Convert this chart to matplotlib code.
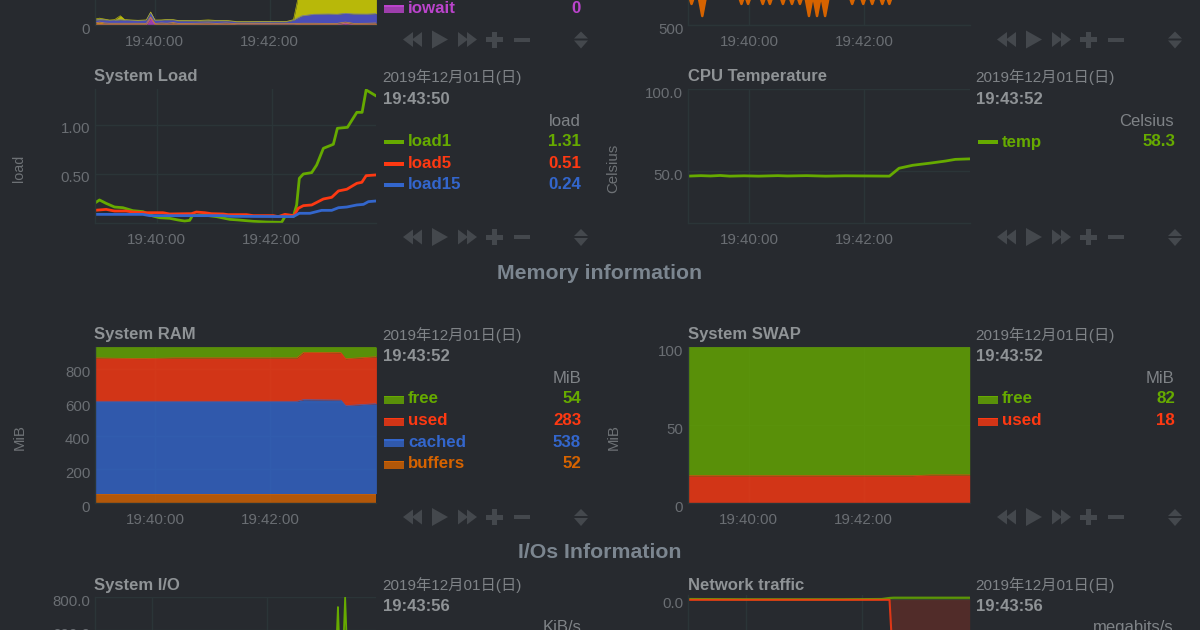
import numpy as np
import matplotlib
matplotlib.use("Agg")
import matplotlib.pyplot as plt
from matplotlib.patches import Polygon, Rectangle
from matplotlib.transforms import ScaledTranslation

FONT = ['Liberation Sans', 'Noto Sans CJK JP', 'DejaVu Sans']
plt.rcParams['font.family'] = FONT

BG = '#272a2f'
GRID = '#2b3538'
TICK = '#6a6e73'
TITLE = '#8f9396'
DATE = '#7f8387'
YLAB = '#6e7276'
HEAD = '#7c8690'
CTRL = '#44484d'
GREEN, RED, BLUE, ORANGE = '#66AA00', '#FE3912', '#3366CC', '#D66300'
PURPLE, YELLOW, INDIGO, AMBER = '#BB44CC', '#DDDD00', '#5558DC', '#EE9911'

TIME_TICKS = [0, 120]
TIME_LABELS = ['19:40:00', '19:42:00']

# ---- System CPU (seconds since 19:40:00, percent)
cpu_t = [-62.8, -57.5, -52.3, -47.1, -41.8, -35.9, -31.4, -26.2, -17.4, -8.7, -4.2, 0.3, 7, 12.9, 19.2, 24.4, 33.1, 43.6,
         55.8, 64.5, 75, 85.4, 95.9, 109.9, 123.8, 137.8, 144.8, 149, 153.5, 165.7, 181.4, 190.2, 198.9, 207.6, 221.5, 231.3]
cpu_iowait = [0, 0, 0, 0, 0, 0, 0, 0, 0, 0, 5.2, 0, 0, 0, 0, 0, 0, 0, 0, 0, 0, 0, 0, 0, 0, 0, 0, 0, 0, 0, 0, 0, 1.2, 0, 0, 0]
cpu_orange = [1.5, 2.2, 1.5, 1.3, 1.3, 1.3, 1.3, 1.3, 1.3, 1.2, 0.8, 1.2, 1.5, 1.3, 1.8, 1.2, 1.2, 1.3,
              1.5, 1.2, 1.5, 1.0, 1.0, 1.0, 1.0, 1.0, 1.0, 1.2, 1.3, 1.3, 1.2, 1.2, 1.0, 1.2, 1.3, 1.5]
cpu_blue = [2.2, 1.8, 2.4, 2.2, 2.2, 2.6, 2.3, 2.3, 2.0, 2.4, 3.4, 2.3, 2.0, 2.6, 2.0, 2.0, 2.0, 1.8,
            1.6, 2.0, 1.7, 1.4, 1.4, 1.5, 1.5, 1.5, 2.5, 4.0, 5.5, 6.7, 7.0, 6.8, 6.5, 7.0, 6.8, 7.0]
cpu_yellow = [0.7, 1.1, 0.5, 0.2, 0.5, 3.0, 0.5, 0.2, 0.2, 0.2, 0.3, 0.2, 0.3, 0.2, 0.2, 0.2, 0.2, 0.2,
              0.7, 0.2, 0.2, 0.2, 0.2, 0.2, 0.2, 0.2, 0.5, 13, 60, 60, 60, 60, 60, 60, 60, 60]

# ---- CPU frequency (MHz)
freq_t = [-64.1, -62, -59.9, -57.8, -52.2, -48.7, -45.2, -10, -7.9, -5.8, -3.1, -1, 1.1, 12.2, 14.3, 16.4, 19.6, 21.7, 23.8,
          33.2, 35.3, 37.4, 42.6, 44.7, 46.8, 50.9, 53, 55.1, 58.9, 62.4, 65.9, 67.3, 70.8, 74.3, 75.7, 79.2, 82.7,
          105.3, 107.4, 109.5, 116.8, 118.9, 121, 126.2, 128.3, 130.4, 136.7, 138.8, 140.9, 144, 146.1, 148.2, 229.8]
freq_v = [700, 700, 657, 700, 700, 567, 700, 700, 657, 700, 700, 657, 700, 700, 657, 700, 700, 657, 700,
          700, 657, 700, 700, 657, 700, 700, 657, 700, 700, 567, 700, 700, 567, 700, 700, 567, 700,
          700, 657, 700, 700, 657, 700, 700, 657, 700, 700, 657, 700, 700, 657, 700, 700]

# ---- System load
load1_t = [-64.9, -59.6, -52.6, -43.9, -35.2, -24.8, -14.3, -3.8, 3.1, 13.6, 22.3, 29.3, 34.5, 37.3, 48.5, 62.4, 76.4, 85.1,
           100.8, 114.7, 130.4, 133.9, 142.6, 146.1, 148.9, 153.1, 161.8, 167, 174, 184.4, 188.6, 199.1, 208.9, 214.4, 218.6, 228.4]
load1_v = [.20, .235, .20, .163, .156, .126, .116, .071, .054, .048, .031, .02, .027, .075, .082, .065, .037, .031,
           .017, .010, .007, .065, .065, .184, .456, .50, .514, .592, .762, .803, .966, .976, 1.129, 1.129, 1.357, 1.30]
load5_t = [-64.9, -52.6, -43.9, -31.7, -24.8, -10.8, 6.6, 13.6, 32.8, 36.3, 41.5, 50.2, 57.2, 69.4, 74.6, 93.8, 100.8, 121.7,
           126.9, 133.9, 143.3, 147.8, 153.1, 161.8, 174, 182.7, 189.7, 198.4, 208.9, 214.1, 218.6, 228.4]
load5_v = [.129, .139, .122, .122, .112, .105, .105, .092, .095, .095, .112, .105, .095, .092, .085, .085, .075, .075,
           .065, .088, .075, .15, .177, .184, .245, .262, .327, .344, .405, .415, .483, .49]
load15_t = [-64.9, -14.3, -7.3, 69.4, 76.4, 142.6, 148.9, 160, 172.2, 182.7, 189.7, 198.4, 208.9, 215.8, 221, 228.4]
load15_v = [.088, .088, .075, .075, .068, .065, .099, .099, .129, .129, .156, .163, .184, .19, .218, .224]

# ---- CPU temperature
temp_t = [-64, -50, -40, -30, -20, -5, 10, 30, 40, 60, 80, 100, 125, 146.4, 156.4, 170.5, 190, 205, 215, 230]
temp_v = [47.0, 47.3, 47.1, 47.4, 47.0, 47.2, 47.0, 47.3, 47.1, 47.3, 47.0, 47.2, 47.1, 47.0, 51.8, 53.6, 55, 56.2, 57.2, 57.5]

# ---- System RAM (MiB)
ram_t = [-63.2, -20, -10, 20, 148, 155, 194, 199, 231]
ram_buffers = [56, 56, 56, 56, 56, 56, 56, 56, 56]
ram_cached = [551, 551, 551, 551, 551, 561, 558, 525, 537]
ram_used = [259, 255, 255, 259, 259, 282, 283, 280, 280]
ram_free = [65, 69, 69, 65, 65, 32, 34, 70, 58]

# ---- System swap (MiB)
swap_t = [-63.6, 170, 190, 230.3]
swap_used = [17.5, 17.5, 18, 18]
swap_free = [82.5, 82.5, 82, 82]

# ---- System I/O (KiB/s)
io_t = [-60.4, 100, 189.5, 193.5, 197, 201, 205, 233.4]
io_v = [50, 50, 150, 739, 150, 797, 150, 50]

# ---- Network traffic (megabits/s)
net_t = [-61.4, 0, 100, 141, 149, 153.5, 232.5]
net_in = [0.1, 0.0, 0.0, 0.1, 0.5, 0.6, 0.6]
net_out = [-0.2, -0.2, -0.2, -0.2, -0.2, -30, -30]

fig = plt.figure(figsize=(12, 6.3), dpi=100, facecolor=BG)


def chart(left, top, right, bottom, xlim, ylim, yticks, ylabels):
    ax = fig.add_axes([left / 1200, 1 - bottom / 630, (right - left) / 1200, (bottom - top) / 630], facecolor=BG)
    ax.set_xlim(*xlim)
    ax.set_ylim(*ylim)
    ax.set_xticks(TIME_TICKS, TIME_LABELS)
    ax.set_yticks(yticks, ylabels)
    ax.grid(color=GRID, lw=1)
    ax.set_axisbelow(True)
    for s in ax.spines.values():
        s.set_color(GRID)
        s.set_linewidth(1)
    ax.spines['right'].set_visible(False)
    ax.spines['top'].set_visible(False)
    ax.tick_params(axis='both', length=0, labelsize=10.8, colors=TICK)
    ax.tick_params(axis='x', pad=7)
    ax.tick_params(axis='y', pad=3)
    shift = ScaledTranslation(0, -3 / 100, fig.dpi_scale_trans)
    for lab in ax.get_yticklabels():
        lab.set_transform(lab.get_transform() + shift)
    return ax


def stack(ax, t, series, colors):
    base = np.zeros(len(t))
    for vals, c in zip(series, colors):
        top = base + np.array(vals, dtype=float)
        ax.fill_between(t, base, top, color=c, alpha=0.8, lw=0)
        ax.plot(t, top, color=c, lw=0.5, alpha=0.8)
        base = top


L1, R1, L2, R2 = 94.5, 376.2, 687.5, 969.7

# charts
ax = chart(L1, -109, R1, 25, (-62.8, 231.1), (0, 100), [0], ['0'])
stack(ax, cpu_t, [cpu_iowait, cpu_orange, cpu_blue, cpu_yellow], [PURPLE, AMBER, INDIGO, YELLOW])

ax = chart(L2, -109, R2, 25, (-64.1, 229.8), (500, 1500), [500], ['500'])
ax.fill_between(freq_t, freq_v, 700, color=ORANGE, lw=0)
ax.plot(freq_t, freq_v, color=ORANGE, lw=1.8)

ax = chart(L1, 89, R1, 223, (-64.8, 229.1), (0, 1.367), [0.5, 1.0], ['0.50', '1.00'])
ax.plot(load1_t, load1_v, color=GREEN, lw=2.0)
ax.plot(load5_t, load5_v, color=RED, lw=2.0)
ax.plot(load15_t, load15_v, color=BLUE, lw=2.0)

ax = chart(L2, 89, R2, 223, (-64, 230), (18.5, 100), [50, 100], ['50.0', '100.0'])
ax.plot(temp_t, temp_v, color=GREEN, lw=2.0)

ax = chart(L1, 347, R1, 503, (-63.2, 230.8), (0, 931), [0, 200, 400, 600, 800], ['0', '200', '400', '600', '800'])
stack(ax, ram_t, [ram_buffers, ram_cached, ram_used, ram_free], [ORANGE, BLUE, RED, GREEN])

ax = chart(L2, 347, R2, 503, (-63.6, 230.3), (0, 100), [0, 50, 100], ['0', '50', '100'])
stack(ax, swap_t, [swap_used, swap_free], [RED, GREEN])

ax = chart(L1, 597, R1, 731, (-60.4, 233.4), (-12, 800), [600, 800], ['600.0', '800.0'])
ax.fill_between(io_t, 0, io_v, color=GREEN, alpha=0.2, lw=0)
ax.plot(io_t, io_v, color=GREEN, lw=1.3)

ax = chart(L2, 595, R2, 731, (-61.4, 232.5), (-50, 1.63), [0], ['0.0'])
ax.fill_between(net_t, 0, net_in, color=GREEN, alpha=0.2, lw=0)
ax.fill_between(net_t, 0, net_out, color=RED, alpha=0.2, lw=0)
ax.plot(net_t, net_in, color=GREEN, lw=1.6, alpha=0.85)
ax.plot(net_t, net_out, color=RED, lw=1.5, alpha=0.85)

# overlay in pixel coordinates for titles, legends and controls
ov = fig.add_axes([0, 0, 1, 1], facecolor='none', zorder=10)
ov.set_xlim(0, 1200)
ov.set_ylim(630, 0)
ov.axis('off')


def txt(x, y, s, size, color, weight='normal', ha='left', rot=0, va='baseline'):
    ov.text(x, y, s, fontsize=size, color=color, fontweight=weight, ha=ha, va=va, rotation=rot,
            family=FONT, clip_on=True)


def controls(dx, cy):
    for pts in (
        [(413, cy - 7.5), (413, cy + 7.5), (403, cy)], [(422, cy - 7.5), (422, cy + 7.5), (412, cy)],
        [(432, cy - 9), (432, cy + 9), (448, cy)],
        [(458, cy - 7.5), (458, cy + 7.5), (468, cy)], [(467, cy - 7.5), (467, cy + 7.5), (477, cy)],
        [(574, cy - 1), (588, cy - 1), (581, cy - 8)], [(574, cy + 1), (588, cy + 1), (581, cy + 9)],
    ):
        ov.add_patch(Polygon([(x + dx, y) for x, y in pts], closed=True, fc=CTRL, ec='none'))
    ov.add_patch(Rectangle((486 + dx, cy - 2.5), 17, 5, fc=CTRL, ec='none'))
    ov.add_patch(Rectangle((492 + dx, cy - 8), 5, 16, fc=CTRL, ec='none'))
    ov.add_patch(Rectangle((514 + dx, cy - 2), 16, 4, fc=CTRL, ec='none'))


def swatch(dx, base, color, area):
    if area:
        ov.add_patch(Rectangle((383.5 + dx, base - 7.5), 20, 8, fc=color, ec='none', alpha=0.8))
        ov.add_patch(Rectangle((383.5 + dx, base - 7.5), 20, 1.5, fc=color, ec='none'))
    else:
        ov.add_patch(Rectangle((383.5 + dx, base - 6.5), 20, 4, fc=color, ec='none'))


def legend(dx, bases, names, values, colors, area):
    for b, n, v, c in zip(bases, names, values, colors):
        swatch(dx, b, c, area)
        txt(408 + dx, b, n, 12.2, c, 'bold')
        txt(581 + dx, b, v, 12.2, c, 'bold', ha='right')


def header(x, title, y_title, date_y, clock, clock_y, unit, unit_y):
    txt(x - 0.5, y_title, title, 12, TITLE, 'bold')
    txt(x + 287.5, date_y, '2019年12月01日(日)', 11, DATE)
    txt(x + 288, clock_y, clock, 12, TITLE, 'bold')
    txt(x + 486, unit_y, unit, 12, DATE, ha='right')


# top row remnants
swatch(0, 12.5, PURPLE, True)
txt(408, 13, 'iowait', 12.2, PURPLE, 'bold')
txt(581, 13, '0', 12.2, PURPLE, 'bold', ha='right')
controls(0, 39.5)
controls(594, 39.5)

# load and temperature
header(95, 'System Load', 81.5, 82, '19:43:50', 103.5, 'load', 126)
legend(0, [146.5, 168, 189], ['load1', 'load5', 'load15'], ['1.31', '0.51', '0.24'], [GREEN, RED, BLUE], False)
txt(19.5, 168.5, 'load', 10.3, YLAB, rot=90, ha='center', va='center')
controls(0, 237)
header(688, 'CPU Temperature', 81.5, 82, '19:43:52', 103.5, 'Celsius', 126)
legend(594, [146.5], ['temp'], ['58.3'], [GREEN], False)
txt(613.5, 168, 'Celsius', 10.8, YLAB, rot=90, ha='center', va='center')
controls(594, 237)

txt(600, 279, 'Memory information', 15.3, HEAD, 'bold', ha='center')

# RAM and swap
header(95, 'System RAM', 339.3, 340, '19:43:52', 360.7, 'MiB', 382.7)
legend(0, [403.3, 425, 446.7, 468.3], ['free', 'used', 'cached', 'buffers'], ['54', '283', '538', '52'],
       [GREEN, RED, BLUE, ORANGE], True)
txt(19.5, 437.5, 'MiB', 10.8, YLAB, rot=90, ha='center', va='center')
controls(0, 517)
header(688, 'System SWAP', 339.3, 340, '19:43:52', 360.7, 'MiB', 382.7)
legend(594, [403.3, 425], ['free', 'used'], ['82', '18'], [GREEN, RED], True)
txt(613.5, 437.5, 'MiB', 10.8, YLAB, rot=90, ha='center', va='center')
controls(594, 517)

txt(600, 558, 'I/Os Information', 15.3, HEAD, 'bold', ha='center')

# I/O and network
header(95, 'System I/O', 590, 590, '19:43:56', 611, 'KiB/s', 632)
header(688, 'Network traffic', 590, 590, '19:43:56', 611, 'megabits/s', 632)

fig.savefig('out.png', dpi=100, facecolor=BG)
